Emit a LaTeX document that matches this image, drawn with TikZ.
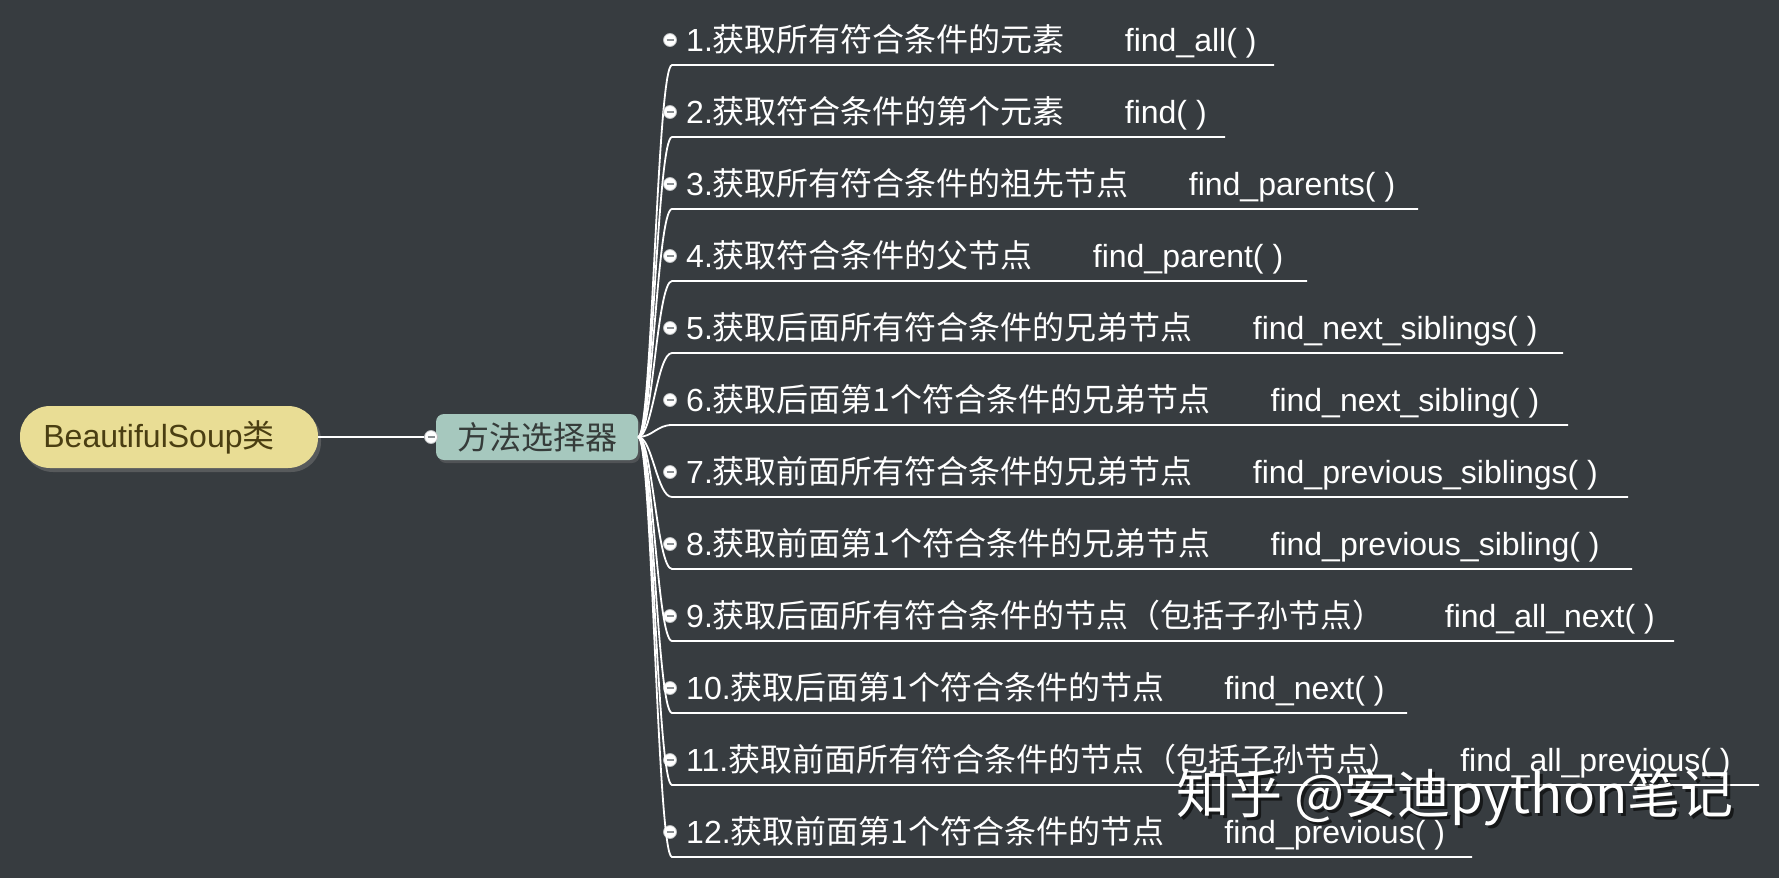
\documentclass[tikz,border=0pt]{standalone}
\usepackage{fontspec}
\setmainfont{Liberation Sans}
\newfontfamily\cjk{Noto Sans CJK SC}
\usetikzlibrary{shadows,calc}
\definecolor{bg}{HTML}{373C40}
\definecolor{rootfill}{HTML}{E9DD95}
\definecolor{roottext}{HTML}{4A3E12}
\definecolor{methfill}{HTML}{A6C8BE}
\definecolor{methtext}{HTML}{363C3A}
\definecolor{dashc}{HTML}{8A8F92}
\tikzset{
 rootbox/.style={fill=rootfill, text=roottext, rounded corners=30pt, minimum width=298pt, minimum height=62pt, inner sep=0pt, font=\fontsize{32}{38}\selectfont, drop shadow={opacity=0.45, shadow xshift=3pt, shadow yshift=-4pt}},
 methbox/.style={fill=methfill, text=methtext, rounded corners=8pt, minimum width=202pt, minimum height=46pt, inner sep=0pt, font=\fontsize{32}{38}\selectfont\cjk, drop shadow={opacity=0.35, shadow xshift=2pt, shadow yshift=-3pt}},
 itemtext/.style={anchor=base west, inner sep=0pt, text=white, font=\fontsize{32}{38}\selectfont},
 knob/.style={circle, fill=white, draw=dashc!60, line width=0.8pt, minimum size=13pt, inner sep=0pt, path picture={\draw[dashc, line width=2pt] ([xshift=-3.5pt]path picture bounding box.center) -- ([xshift=3.5pt]path picture bounding box.center);}},
 link/.style={draw=white, line width=2.2pt},
 branch/.style={draw=white, line width=1.8pt},
 wmark/.style={font=\fontsize{53}{60}\selectfont\cjk, inner sep=0pt},
}
\begin{document}
\begin{tikzpicture}[x=1pt,y=-1pt]
\useasboundingbox (0,0) rectangle (1779,878);
\fill[bg] (0,0) rectangle (1779,878);

\node[rootbox] (root) at (169,437) {\kern-20pt BeautifulSoup{\cjk 类}};
\node[methbox] (meth) at (537,437) {方法选择器};
\node[knob] (mdot) at (431,437) {};
\draw[link] (root.east) -- (mdot.west);

\foreach \k/\num/\cn/\meth/\ux in {
 1/1./获取所有符合条件的元素/find\_all( )/1274,
 2/2./获取符合条件的第个元素/find( )/1225,
 3/3./获取所有符合条件的祖先节点/find\_parents( )/1418,
 4/4./获取符合条件的父节点/find\_parent( )/1307,
 5/5./获取后面所有符合条件的兄弟节点/find\_next\_siblings( )/1563,
 6/6./获取后面第1个符合条件的兄弟节点/find\_next\_sibling( )/1568,
 7/7./获取前面所有符合条件的兄弟节点/find\_previous\_siblings( )/1628,
 8/8./获取前面第1个符合条件的兄弟节点/find\_previous\_sibling( )/1632,
 9/9./获取后面所有符合条件的节点（包括子孙节点）/find\_all\_next( )/1674,
 10/10./获取后面第1个符合条件的节点/find\_next( )/1407,
 11/11./获取前面所有符合条件的节点（包括子孙节点）/find\_all\_previous( )/1759,
 12/12./获取前面第1个符合条件的节点/find\_previous( )/1472}{
 \pgfmathsetmacro\uy{65+72*(\k-1)}
 \node[knob] (b\k) at (670,\uy-25) {};
 \node[itemtext] (r\k) at (686,\uy-14) {\num{\cjk \cn}\hspace{60pt}\meth};
 \coordinate (u\k) at (\ux,\uy);
 \draw[branch] (meth.east) .. controls +(14,0) and (657,\uy) .. (672,\uy) -- (u\k);
}

\node[wmark, text=black, opacity=0.6] (wmshadow) at (1458,800) {知乎 @安迪python笔记};
\node[wmark, text=white] (wm) at (1455,797) {知乎 @安迪python笔记};
\end{tikzpicture}
\end{document}
